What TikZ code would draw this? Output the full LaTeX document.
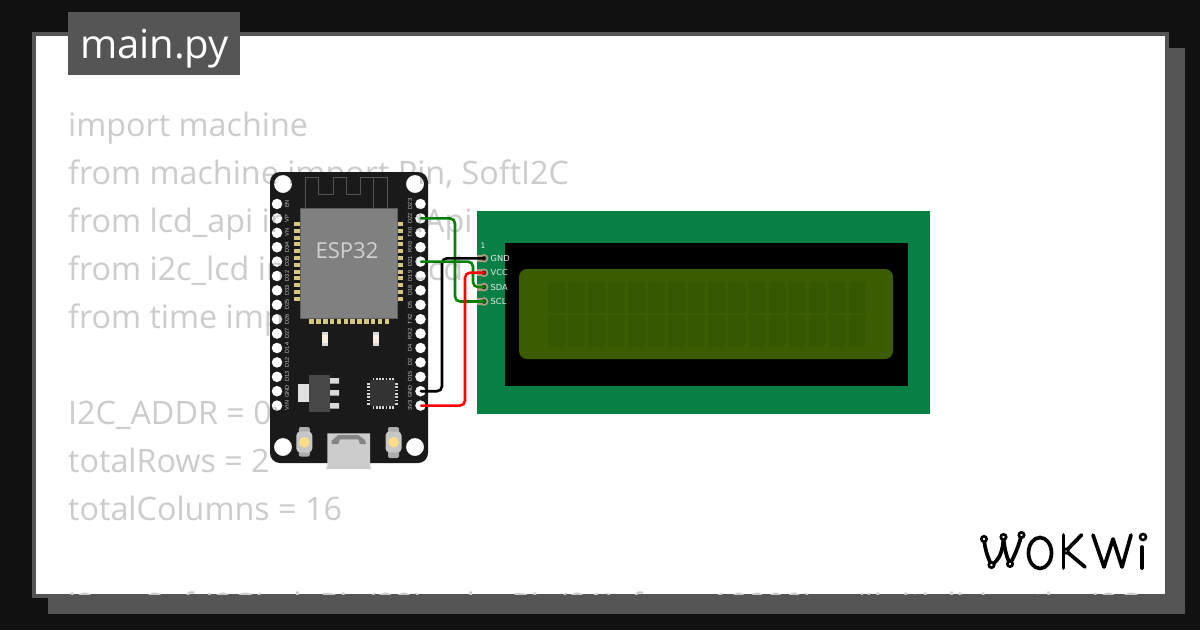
\documentclass[tikz,border=0pt]{standalone}
\usepackage{fontspec}
\setmainfont{Open Sans}
\newfontfamily\pinfont{Liberation Sans}
\newfontfamily\lcdfont{DejaVu Sans}
\definecolor{bgdark}{HTML}{111111}
\definecolor{framegray}{HTML}{555555}
\definecolor{codegray}{HTML}{CCCCCC}
\definecolor{boardblack}{HTML}{1A1A1A}
\definecolor{chipgray}{HTML}{808080}
\definecolor{padgold}{HTML}{D6C67E}
\definecolor{lcdgreen}{HTML}{087F45}
\definecolor{lcdscreen}{HTML}{3B5C00}
\definecolor{lcdcell}{HTML}{355700}
\definecolor{pintan}{HTML}{AC9C7E}
\definecolor{wiregreen}{HTML}{008000}
\definecolor{ledcream}{HTML}{FBF0E0}
\definecolor{btngold}{HTML}{FFDD88}
\definecolor{usbgray}{HTML}{CCCCCC}
\tikzset{
  codeline/.style={anchor=base west,inner sep=0pt,text=codegray,font=\fontsize{32.3}{32}\selectfont},
  pinlabel/.style={inner sep=0pt,text=white!78!black,rotate=90,font=\pinfont\fontsize{5.6}{6}\selectfont},
  lcdlabel/.style={anchor=west,inner sep=0pt,text=white!92!black,font=\lcdfont\fontsize{8.3}{8.3}\selectfont},
  wire/.style={line width=2.6pt,line cap=round,rounded corners=5pt},
  logo/.style={line width=3.7pt,black,line cap=round,line join=round},
  logodot/.style={line width=2.6pt,draw=black,fill=white},
}
\begin{document}
\begin{tikzpicture}[x=1pt,y=-1pt]
\useasboundingbox (0,0) rectangle (1200,630);
\fill[bgdark] (0,0) rectangle (1200,630);
% shadow + frame
\fill[framegray] (48,48) rectangle (1185,614);
\fill[framegray] (32,32) rectangle (1169,598);
\fill[white] (36,36) rectangle (1165,594);
% code text
\begin{scope}
\clip (36,36) rectangle (1165,594);
\node[codeline] (c1) at (68,136) {import machine};
\node[codeline] (c2) at (68,184) {from machine import Pin, SoftI2C};
\node[codeline] (c3) at (68,232) {from lcd\_api import LcdApi};
\node[codeline] (c4) at (68,280) {from i2c\_lcd import I2cLcd};
\node[codeline] (c5) at (68,328) {from time import sleep};
\node[codeline] (c6) at (68,424) {I2C\_ADDR = 0x27};
\node[codeline] (c7) at (68,472) {totalRows = 2};
\node[codeline] (c8) at (68,520) {totalColumns = 16};
\node[codeline] (c9) at (68,616) {i2c = SoftI2C(scl=Pin(22), sda=Pin(21), freq=10000)\hspace{40pt}\#initializing the I2C};
\end{scope}
% title tab
\fill[framegray] (68,12) rectangle (240,75);
\node[anchor=base west,inner sep=0pt,text=white,font=\fontsize{40}{40}\selectfont] (title) at (80,58) {main.py};
% ESP32 board with real holes
\fill[boardblack,even odd rule]
  (270,172) [rounded corners=10pt] rectangle (428,463) [sharp corners]
  (283,184) circle (9) (415,184) circle (9) (283,447) circle (9) (415,447) circle (9)
  \foreach \i in {0,...,14} {
    (277,{204+14.4*\i}) circle (5.4)
    (420.5,{204+14.4*\i}) circle (5.4)
  };
% antenna
\draw[framegray,line width=1pt] (305.5,208) -- (305.5,177) -- (318,177) -- (318,194) -- (333,194) -- (333,177) -- (346,177) -- (346,194) -- (360.5,194) -- (360.5,177) -- (387,177) -- (387,208);
\draw[framegray,line width=1pt] (373,177) -- (373,208);
% ESP32 chip pads
\foreach \i in {0,...,11} {
  \fill[padgold] (294,{222+6.8*\i}) rectangle (300.5,{226+6.8*\i});
  \fill[padgold] (397,{222+6.8*\i}) rectangle (403,{226+6.8*\i});
  \fill[padgold] ({309.3+6.85*\i},317) rectangle ({313.8+6.85*\i},324.3);
}
\draw[fill=chipgray,draw=framegray!80!chipgray,line width=0.7pt] (300,208) rectangle (397,318);
\node[inner sep=0pt,text=white!82!black,font=\fontsize{22}{22}\selectfont] (chiplabel) at (347,251) {ESP32};
% pin labels
\foreach \t [count=\n from 0] in {EN,VP,VN,D34,D35,D32,D33,D25,D26,D27,D14,D12,D13,GND,VIN}
  \node[pinlabel] (L\n) at (287,{204+14.4*\n}) {\t};
\foreach \t [count=\n from 0] in {D23,D22,TX0,RX0,D21,D19,D18,D5,TX2,RX2,D4,D2,D15,GND,3V3}
  \node[pinlabel] (R\n) at (410,{204+14.4*\n}) {\t};
% LEDs
\foreach \x in {325,376} {
  \fill[white!85!black] (\x-3,332) rectangle (\x+3,346);
  \fill[ledcream] (\x-3,335) rectangle (\x+3,343);
}
% regulator
\fill[white!88!black] (298,384) rectangle (310,402);
\fill[white!85!black] (330,378) rectangle (339,383.5) (330,390) rectangle (339,395.5) (330,403) rectangle (339,408.5);
\fill[black!72] (309,375) rectangle (330,412);
% QFN
\foreach \i in {0,...,6} {
  \fill[white!85!black] ({372.5+3.3*\i},377.5) rectangle ({374.2+3.3*\i},380.5);
  \fill[white!85!black] ({372.5+3.3*\i},405.5) rectangle ({374.2+3.3*\i},408.5);
  \fill[white!85!black] (366.5,{383+3.3*\i}) rectangle (369.8,{384.7+3.3*\i});
  \fill[white!85!black] (395,{383+3.3*\i}) rectangle (398.2,{384.7+3.3*\i});
}
\fill[black!80,rounded corners=2pt] (370,380) rectangle (395,406);
% buttons
\foreach \x/\y in {304.3/456.5,393.5/458} {
  \fill[white!68!black,rounded corners=2pt] (\x-5.5,427) rectangle (\x+5.5,\y);
  \fill[white!78!black,rounded corners=4pt] (\x-8,431.5) rectangle (\x+8,452.5);
  \fill[btngold] (\x,442.3) circle (5.3);
}
% USB
\fill[usbgray] (327.3,433.3) -- (370,433.3) -- (370,466.5) -- (371.5,469) -- (325.8,469) -- (327.3,466.5) -- cycle;
\fill[white!52!black] (338.3,435) -- (358.3,435) -- (365,440) -- (366,444) -- (360,444) -- (358.3,439.3) -- (340,439.3) -- (338.3,444) -- (331.7,444) -- (331.7,440.7) -- cycle;
% LCD
\fill[lcdgreen] (477,211) rectangle (930,414);
\fill[black] (505,243) rectangle (908,386);
\fill[lcdscreen,rounded corners=8pt] (519,269) rectangle (893,359);
\foreach \c in {0,...,15} {
  \fill[lcdcell] ({548+20.05*\c},282) rectangle ({564.5+20.05*\c},312.8);
  \fill[lcdcell] ({548+20.05*\c},315) rectangle ({564.5+20.05*\c},346.5);
}
% LCD pins
\coordinate (gnd) at (484,258.3);
\coordinate (vcc) at (484,272.7);
\coordinate (sda) at (484,287.1);
\coordinate (scl) at (484,301.5);
\foreach \p in {gnd,vcc,sda,scl} {
  \fill[pintan] (\p) ++(-7,-3.5) rectangle ++(7,7);
  \fill[pintan] (\p) circle (4.4);
  \fill[black!80] (\p) circle (2.4);
}
\node[anchor=center,inner sep=0pt,text=white!92!black,font=\lcdfont\fontsize{7.5}{8}\selectfont] (one) at (483,246) {1};
\node[lcdlabel] (tgnd) at (490.5,258.3) {GND};
\node[lcdlabel] (tvcc) at (490.5,272.7) {VCC};
\node[lcdlabel] (tsda) at (490.5,287.1) {SDA};
\node[lcdlabel] (tscl) at (490.5,301.5) {SCL};
% wires
\coordinate (d22) at (421,218.4);
\coordinate (d21) at (421,261.6);
\coordinate (g3) at (421,391.2);
\coordinate (v3) at (421,405.6);
\coordinate (b1) at (455,280);
\coordinate (b2) at (473,275);
\coordinate (b3) at (442,320);
\coordinate (b4) at (465,340);
\draw[wire,wiregreen] (d22) -| (b1) |- (scl);
\draw[wire,black] (g3) -| (b3) |- (gnd);
\draw[wire,wiregreen] (d21) -| (b2) |- (sda);
\draw[wire,red] (v3) -| (b4) |- (vcc);
% WOKWI logo
\draw[logo] (984,539) .. controls (985,550) and (988,558) .. (991.5,565);
\draw[logo] (991.5,565) .. controls (999,560) and (1003,552) .. (1003.5,537);
\draw[logo] (1003.5,537) .. controls (1004,548) and (1007,558) .. (1010,564);
\draw[logo] (1010,564) .. controls (1015,555) and (1019,545) .. (1021.5,535);
\foreach \x/\y in {984/539,991.5/565,1003.5/537,1010/564,1021.5/535}
  \draw[logodot] (\x,\y) circle (2.7);
\draw[logo] (1040,553) ellipse (11.5 and 15.5);
\draw[logo] (1063.5,535) -- (1063.5,568);
\draw[logo] (1081.5,535) -- (1066,551) -- (1085,567);
\draw[logodot] (1066,551) circle (2.2);
\draw[logo] (1093,535) -- (1104,567) -- (1113,539) -- (1122,567) -- (1131,535);
\draw[logo] (1142,547) -- (1142,568);
\draw[logodot] (1143,537) circle (3);
\end{tikzpicture}
\end{document}
